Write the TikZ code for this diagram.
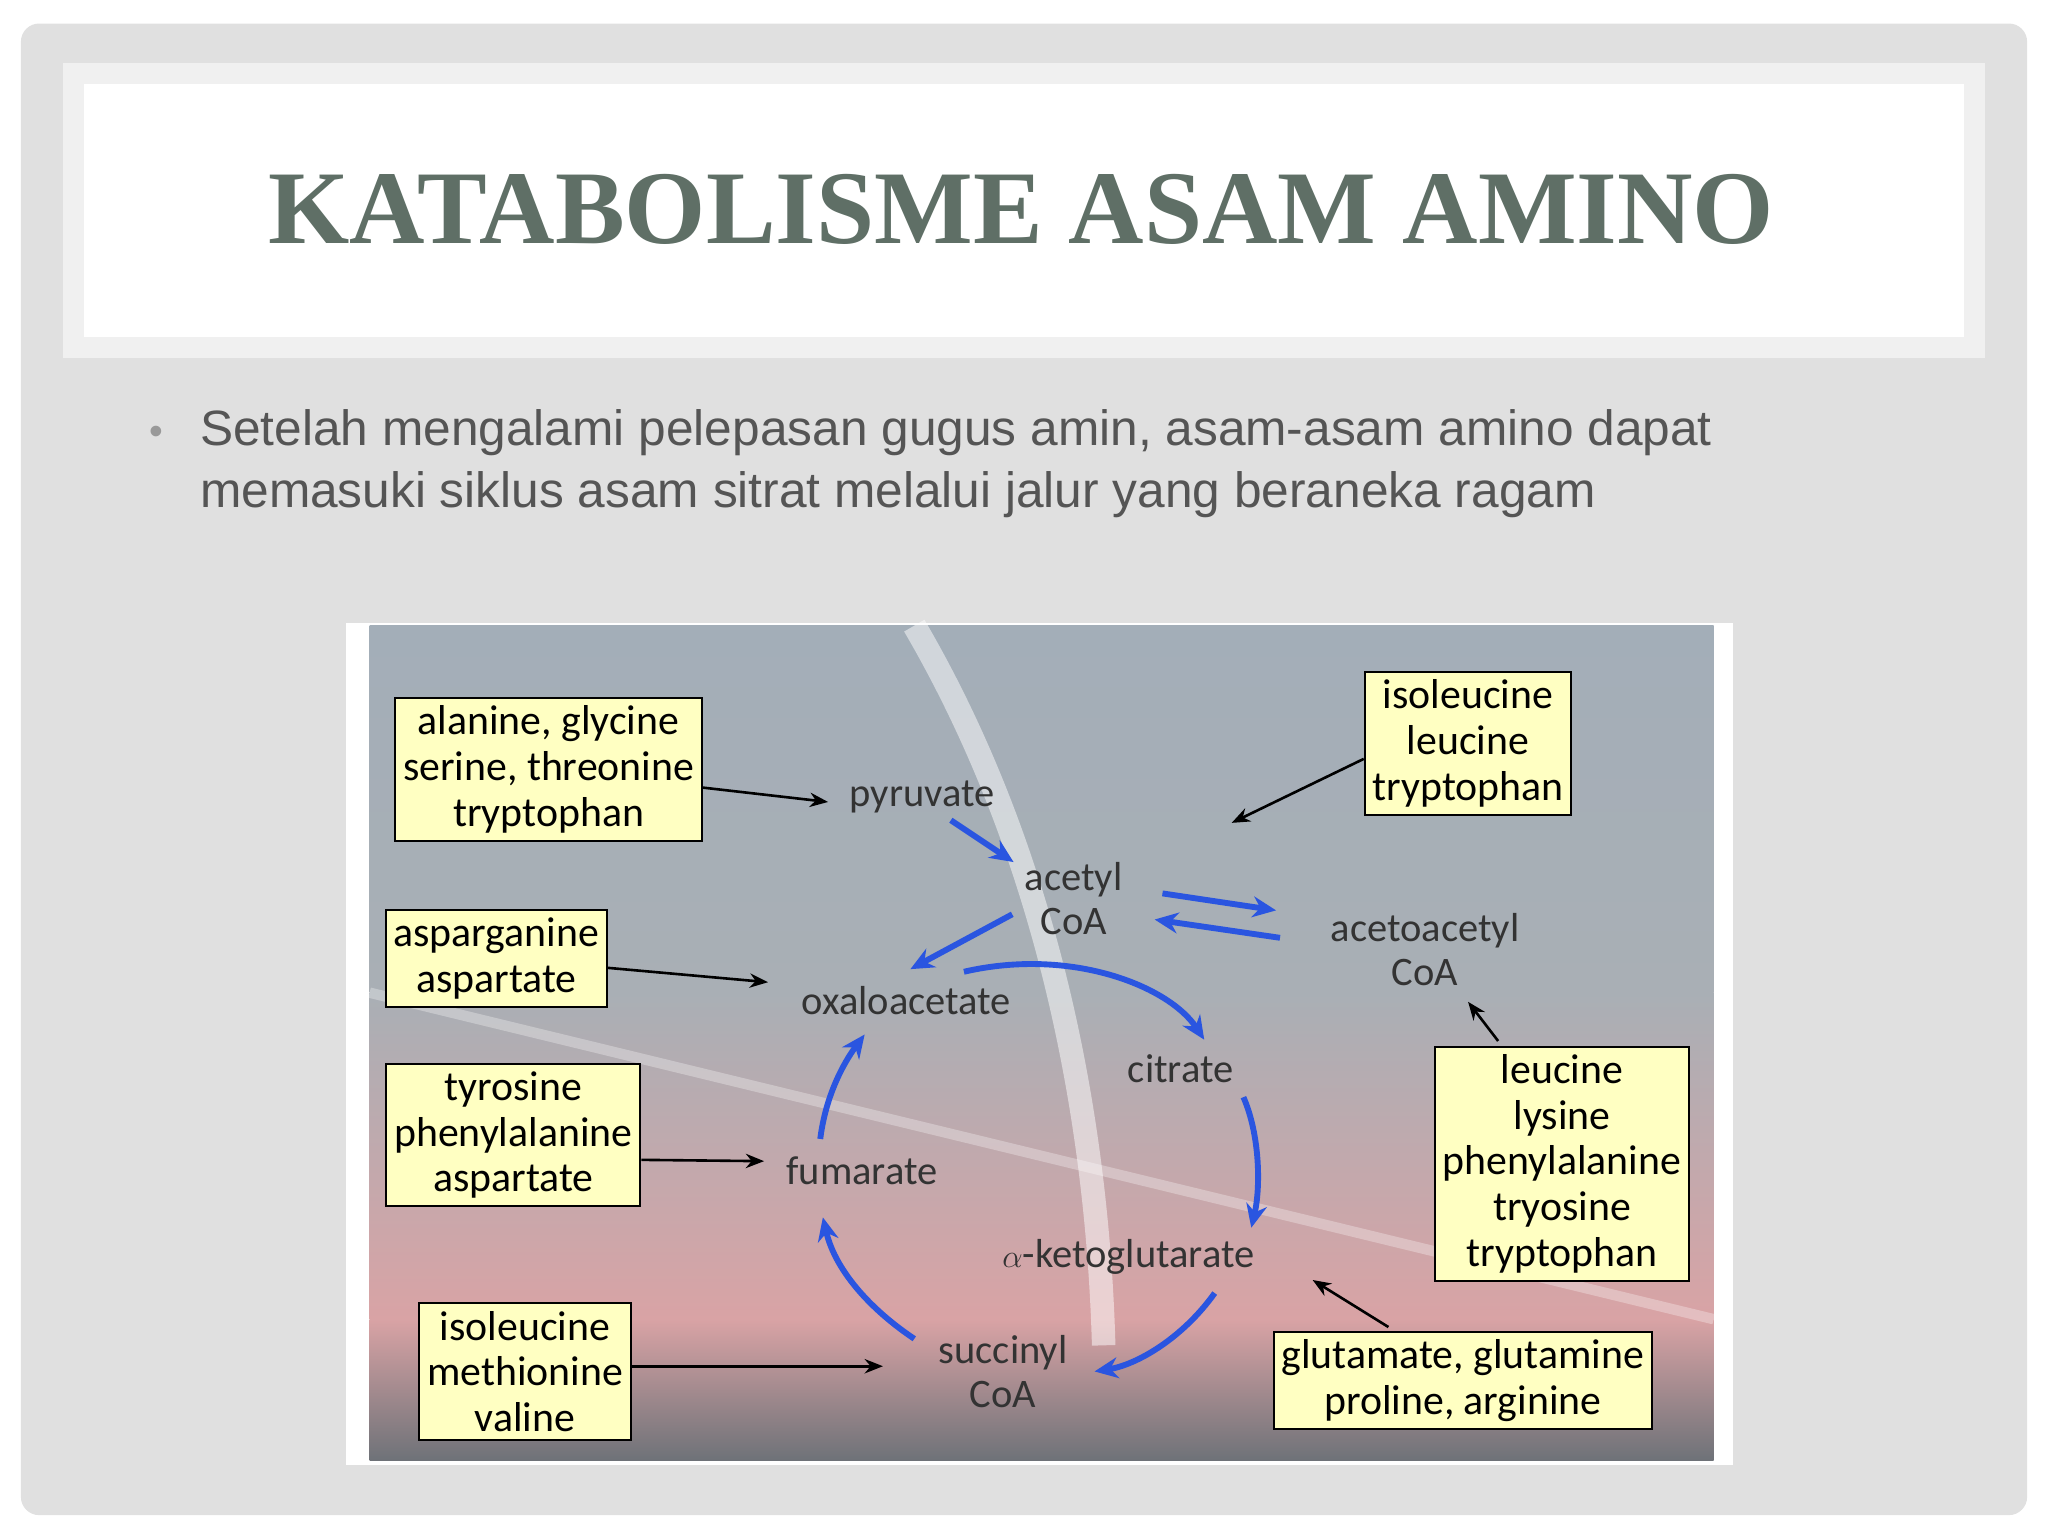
\documentclass[tikz,border=0pt]{standalone}
\usepackage{fontspec}
\setmainfont{Liberation Sans}
\newfontfamily\titlefont{Liberation Serif}
\newfontfamily\boxfont{Carlito}
\usetikzlibrary{arrows.meta}
\definecolor{titlec}{HTML}{5F6F66}
\definecolor{bodyc}{HTML}{555555}
\definecolor{ybox}{HTML}{FFFFC2}
\definecolor{blu}{HTML}{2A55E0}
\definecolor{skytop}{HTML}{A3AEB8}
\definecolor{skymid}{HTML}{A9AFB5}
\definecolor{skylow}{HTML}{D9A3A5}
\definecolor{sea}{HTML}{6E7278}
\begin{document}
\begin{tikzpicture}[x=1pt,y=-1pt,
  ybx/.style={draw=black,line width=1.5pt,fill=ybox,align=center,font=\boxfont\fontsize{32}{35}\selectfont,inner sep=6pt},
  lbl/.style={align=center,font=\boxfont\fontsize{31}{34}\selectfont,text=black!80,inner sep=1pt},
  barr/.style={-{Stealth[length=14pt,width=11pt]},line width=2pt,black},
  blarr/.style={-{Stealth[length=18pt,width=16pt]},line width=4.5pt,blu}]
\useasboundingbox (0,0) rectangle (1568,1176);
\fill[white] (0,0) rectangle (1568,1176);
\fill[black!12,rounded corners=14pt] (16,18) rectangle (1552,1160);
\fill[black!6] (48,48) rectangle (1520,274);
\fill[white] (64,64) rectangle (1504,258);
\node[font=\titlefont\bfseries\fontsize{80}{86}\selectfont,text=titlec] (title) at (782,160) {KATABOLISME ASAM AMINO};
\node[text=black!40,font=\fontsize{30}{36}\selectfont] (bul) at (120,333) {•};
\node[anchor=north west,align=left,text=bodyc,font=\fontsize{38}{48}\selectfont,inner sep=0pt] (body) at (153,313) {Setelah mengalami pelepasan gugus amin, asam-asam amino dapat\\memasuki siklus asam sitrat melalui jalur yang beraneka ragam};
% picture
\fill[white] (265,477) rectangle (1327,1122);
\shade[top color=skytop, bottom color=skymid] (283,479) rectangle (1312,760);
\shade[top color=skymid, bottom color=skylow] (283,760) rectangle (1312,1010);
\shade[top color=skylow,bottom color=sea] (283,1010) rectangle (1312,1118);
\draw[white,opacity=0.5,line width=18pt] (700,479) .. controls (800,650) and (840,850) .. (845,1030);
\draw[white,opacity=0.3,line width=8pt] (283,760) -- (1312,1010);
% boxes
\node[ybx] (b1) at (420,589) {alanine, glycine\\serine, threonine\\tryptophan};
\node[ybx] (b2) at (380,734) {asparganine\\aspartate};
\node[ybx] (b3) at (393,869) {tyrosine\\phenylalanine\\aspartate};
\node[ybx] (b4) at (402,1050) {isoleucine\\methionine\\valine};
\node[ybx] (b5) at (1124,569) {isoleucine\\leucine\\tryptophan};
\node[ybx] (b6) at (1196,891) {leucine\\lysine\\phenylalanine\\tryosine\\tryptophan};
\node[ybx] (b7) at (1120,1057) {glutamate, glutamine\\proline, arginine};
% labels
\node[lbl] (pyr) at (706,610) {pyruvate};
\node[lbl] (acc) at (822,688) {acetyl\\CoA};
\node[lbl] (aac) at (1091,727) {acetoacetyl\\CoA};
\node[lbl] (oxa) at (694,766) {oxaloacetate};
\node[lbl] (cit) at (904,818) {citrate};
\node[lbl] (fum) at (660,896) {fumarate};
\node[lbl] (akg) at (864,962) {$\alpha$-ketoglutarate};
\node[lbl] (suc) at (768,1050) {succinyl\\CoA};
\coordinate (c5) at (943,630);
\coordinate (e1) at (634,614);
\coordinate (e2) at (588,752);
\coordinate (e3) at (585,889);
\coordinate (e4) at (676,1046);
\coordinate (s6) at (1147,797);
\coordinate (e6) at (1124,767);
\coordinate (s7) at (1063,1016);
\coordinate (e7) at (1005,980);
% black arrows
\draw[barr] (b1.east) ++(0,14) -- (e1);
\draw[barr] (b2.east) ++(0,7) -- (e2);
\draw[barr] (b3.east) ++(0,19) -- (e3);
\draw[barr] (b4.east) ++(0,-4) -- (e4);
\draw[barr] (b5.west) ++(0,12) -- (c5);
\draw[barr] (s6) -- (e6);
\draw[barr] (s7) -- (e7);
% blue arrows
\draw[blarr] (728,628) -- (776,660);
\draw[blarr] (775,700) -- (697,742);
\draw[blarr] (890,684) -- (977,697);
\draw[blarr] (980,718) -- (884,704);
\draw[blarr] (738,744) .. controls (820,725) and (895,755) .. (922,796);
\draw[blarr] (952,840) .. controls (965,870) and (965,910) .. (958,940);
\draw[blarr] (930,990) .. controls (905,1025) and (870,1045) .. (838,1050);
\draw[blarr] (700,1025) .. controls (670,1005) and (640,975) .. (630,932);
\draw[blarr] (628,872) .. controls (632,840) and (645,815) .. (662,792);
\end{tikzpicture}
\end{document}
